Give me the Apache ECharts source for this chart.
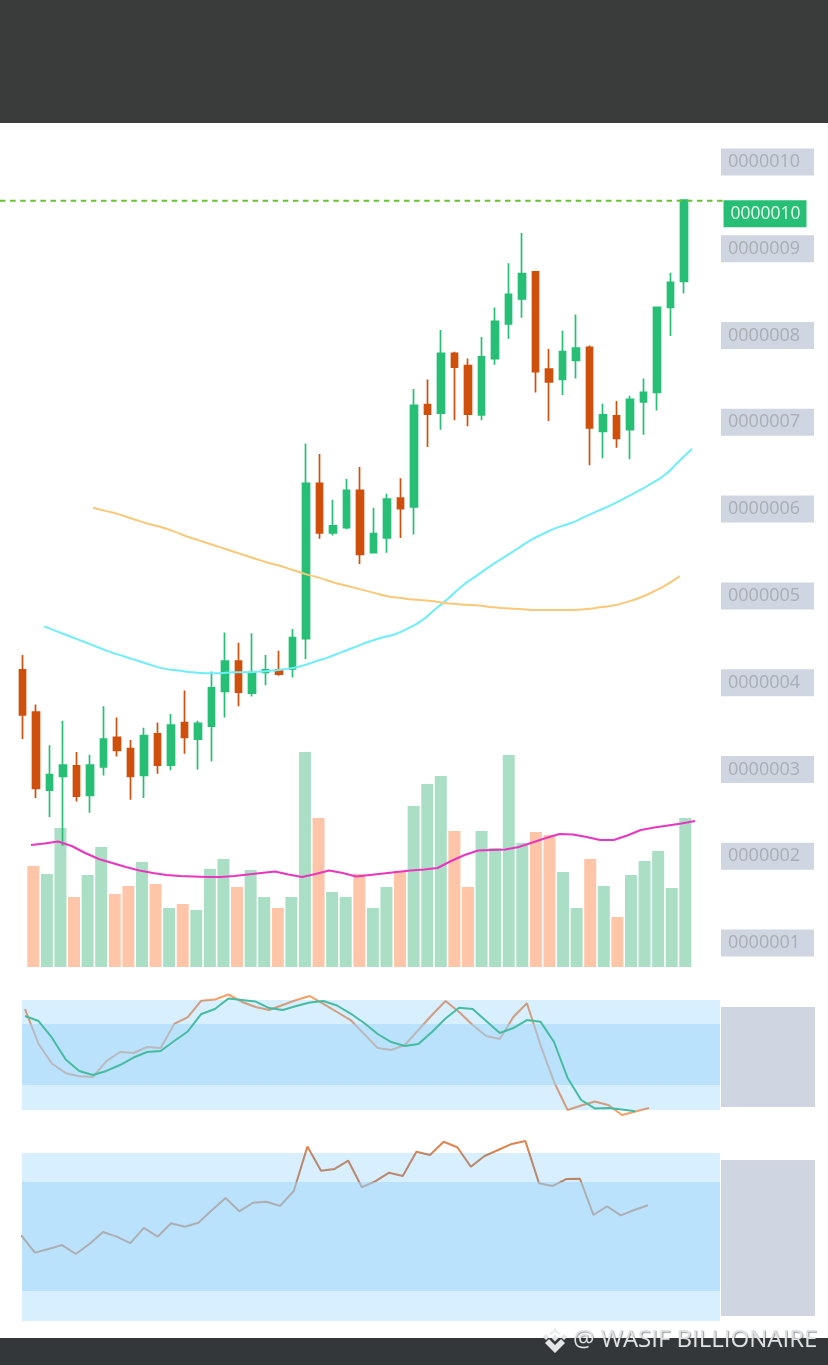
<!DOCTYPE html>
<html><head><meta charset="utf-8">
<style>html,body{margin:0;padding:0;background:#fff}#c{width:828px;height:1365px}</style>
<script src="https://cdn.jsdelivr.net/npm/echarts@6/dist/echarts.min.js"></script>
</head><body><div id="c"></div>
<script>
// [open, close, low, high]
const candles = [
[4.13,3.61,3.33,4.30],[3.64,2.76,2.65,3.73],[2.74,2.92,2.43,3.26],[2.90,3.03,2.10,3.54],[3.02,2.67,2.61,3.18],
[2.68,3.03,2.48,3.15],[3.01,3.33,2.91,3.71],[3.35,3.20,3.13,3.58],[3.22,2.90,2.63,3.32],[2.91,3.37,2.65,3.46],
[3.39,3.03,2.93,3.52],[3.03,3.49,2.97,3.62],[3.52,3.35,3.16,3.89],[3.33,3.51,2.98,3.54],[3.48,3.92,3.07,4.11],
[3.88,4.23,3.58,4.56],[4.23,3.87,3.71,4.44],[3.86,4.10,3.82,4.55],[4.10,4.13,3.95,4.30],[4.13,4.08,4.06,4.35],
[4.14,4.50,4.04,4.60],[4.49,6.28,4.25,6.74],[6.28,5.71,5.64,6.62],[5.71,5.79,5.68,6.09],[5.77,6.20,5.75,6.33],
[6.20,5.46,5.35,6.47],[5.48,5.70,5.48,6.00],[5.65,6.10,5.48,6.16],[6.11,5.99,5.65,6.34],[6.01,7.18,5.69,7.37],
[7.19,7.08,6.70,7.48],[7.09,7.78,6.90,8.05],[7.78,7.62,7.01,7.80],[7.64,7.08,6.94,7.72],[7.07,7.74,7.01,7.97],
[7.72,8.15,7.65,8.31],[8.12,8.46,7.95,8.82],[8.41,8.70,8.19,9.17],[8.72,7.57,7.33,8.73],[7.60,7.45,7.00,7.83],
[7.48,7.80,7.30,8.04],[7.70,7.84,7.49,8.23],[7.85,6.92,6.49,7.87],[6.88,7.07,6.57,7.20],[7.06,6.80,6.69,7.23],
[6.90,7.25,6.56,7.29],[7.22,7.33,6.84,7.49],[7.33,8.31,7.12,8.31],[8.31,8.60,7.98,8.71],[8.61,9.55,8.47,9.55]
];
const maCyan = [4.63,4.57,4.51,4.45,4.39,4.33,4.28,4.23,4.18,4.14,4.12,4.10,4.09,4.09,4.10,4.10,4.11,4.12,4.14,4.17,4.22,4.27,4.33,4.39,4.45,4.50,4.54,4.61,4.70,4.83,4.96,5.10,5.21,5.32,5.42,5.52,5.62,5.70,5.77,5.82,5.89,5.96,6.03,6.11,6.19,6.28,6.38,6.53,6.68];
const maOrange = [6.00,5.96,5.92,5.87,5.82,5.78,5.73,5.67,5.62,5.57,5.52,5.47,5.42,5.37,5.33,5.28,5.23,5.19,5.14,5.10,5.06,5.02,4.98,4.96,4.94,4.93,4.91,4.89,4.88,4.87,4.85,4.84,4.83,4.82,4.82,4.82,4.82,4.83,4.85,4.87,4.91,4.96,5.03,5.11,5.21];
const volumes = [101,93,139,70,92,120,73,81,105,83,59,63,57,98,108,80,97,70,59,70,215,149,75,70,93,59,80,96,161,183,191,136,80,136,119,212,124,135,132,95,59,108,81,50,92,106,116,79,149];
const volumeDown = [1,0,0,1,0,0,1,1,0,1,0,1,0,0,0,1,0,0,1,0,0,1,0,0,1,0,0,1,0,0,0,1,1,0,0,0,0,1,1,0,0,1,0,1,0,0,0,0,0];
const volumeMA = [122,123.5,125.5,121,114,108,104,100,96.5,94,92,91,90.5,90,90,91,92.5,94,95.5,92.5,90,93,96.5,94,90.5,92,93.5,95,96.5,97.5,99,106,112,116.5,117,117.5,120,124.5,129,133,132.5,130,127,127,131.5,137,139.5,141.5,143.5,146];
const kdjSlow = [91.8,60,42,33.5,30.7,30,44.5,52.7,51.8,57.3,56.4,78.2,84.5,99.4,100.5,105,98.2,93.6,90.9,95.5,100,103.6,96.4,89.1,81.8,69.1,56.4,54.5,59.1,72.7,86.4,99.1,89.1,77.3,67.3,64.5,84.5,97,59.1,25.5,0,4.1,7.7,4.5,-4.5,-1.4,1.8];
const kdjFast = [85.5,80.9,65.5,45.9,35.5,31.8,35.5,40.9,47.7,52.7,53.6,62.7,71.4,87.3,91.8,101.4,100,98.6,92.7,90.9,94.5,97.7,99.1,95,87.7,79.1,69.1,61.8,58.2,60,70.9,83.2,93,91.8,80.9,70,74.5,81.8,80.3,61.8,29.1,9.1,1.4,1.8,0.5,-1.2];
const rsi = [51.0,40.7,42.9,45.2,39.9,45.8,53.0,50.2,46.4,55.4,50.2,58.2,56.1,58.5,66.1,73.2,65.3,70.4,71.0,68.5,77.4,103.8,89.5,90.5,95.4,79.6,83.3,88.3,86.3,100.8,98.8,106.7,103.4,91.8,98.2,101.8,105.4,107.1,82.0,80.4,84.5,84.7,63.1,68.3,62.9,66.1,68.9];
const priceTicks = {min:1,max:10,step:1};
const lastPrice = 9.54;
const lastPriceLabel = '0000010';
const kdjOuter = [0,100], kdjInner = [22.7,78.2];
const rsiOuter = [0,100], rsiInner = [17.9,82.7];

const UP='#26bf75', DOWN='#cf4f0c';
const cat = n => Array.from({length:n},(_,i)=>String(i));
const grids=[], xAxes=[], yAxes=[];
function panel(g, n, gap, y){
  grids.push(Object.assign({containLabel:false},g));
  const i=grids.length-1;
  xAxes.push({type:'category',gridIndex:i,data:cat(n),boundaryGap:gap,show:false});
  yAxes.push(Object.assign({type:'value',gridIndex:i,show:false,splitLine:{show:false}},y));
  return i;
}
const priceY={min:priceTicks.min,max:priceTicks.max};
const pv={top:161,height:780};
const gCandle=panel({left:15.75,width:675,...pv},candles.length,true,priceY);
const gLabels=panel({left:15.75,width:675,top:162,height:781},2,true,{
  show:true,position:'right',offset:30.25,min:priceTicks.min,max:priceTicks.max,interval:priceTicks.step,
  axisLine:{show:false},axisTick:{show:false},
  axisLabel:{margin:0,color:'#aaaeb4',fontFamily:'Open Sans',fontSize:18,backgroundColor:'#cfd6e2',
    width:79,height:17,lineHeight:17,padding:[5,7,5,7],align:'left',
    formatter:v=>String(Math.round(v)).padStart(7,'0')}
});
const gCyan=panel({left:44,width:648,...pv},maCyan.length,false,priceY);
const gOrange=panel({left:93,width:586.7,...pv},maOrange.length,false,priceY);
const gLast=panel({left:0,width:727,...pv},2,false,priceY);
const gVol=panel({left:26.5,width:665.6,top:752,height:215},volumes.length,true,{min:0,max:215});
const gVolMA=panel({left:31,width:664,top:752,height:215},volumeMA.length,false,{min:0,max:215});
const kv={top:989,height:132};
const gKB=panel({left:22,width:698,...kv},2,false,{min:-10,max:110});
const gKL=panel({left:25,width:624,...kv},kdjSlow.length,false,{min:-10,max:110});
const rv={top:1119.4,height:201.6};
const gRB=panel({left:22,width:698,...rv},2,false,{min:0,max:120});
const gRL=panel({left:21.3,width:626.7,...rv},rsi.length,false,{min:0,max:120});

const line=(g,data,color,width,z,extra)=>Object.assign({type:'line',xAxisIndex:g,yAxisIndex:g,data,showSymbol:false,symbol:'none',
  smooth:false,silent:true,z,lineStyle:{color,width},connectNulls:false},extra||{});
const band=(g,outer,inner)=>({type:'line',xAxisIndex:g,yAxisIndex:g,data:[],silent:true,z:6,
  markArea:{silent:true,z:6,data:[
    [{yAxis:outer[0],itemStyle:{color:'rgba(4,156,250,0.16)'}},{yAxis:outer[1]}],
    [{yAxis:inner[0],itemStyle:{color:'rgba(159,213,250,0.5)'}},{yAxis:inner[1]}]
  ]}});

const diamond=(cx,cy,r,fill)=>({type:'polygon',z:100,silent:true,shape:{points:[[cx,cy-r],[cx+r,cy],[cx,cy+r],[cx-r,cy]]},style:{fill}});
const logoC='#e3e5e6';
const chart=echarts.init(document.getElementById('c'),null,{renderer:'canvas'});
chart.setOption({
  animation:false,backgroundColor:'#fff',
  grid:grids,xAxis:xAxes,yAxis:yAxes,
  series:[
    {type:'bar',xAxisIndex:gVol,yAxisIndex:gVol,barWidth:12,silent:true,z:2,
      data:volumes.map((v,i)=>({value:v,itemStyle:{color:volumeDown[i]?'#fec5a8':'#abdfc5'}}))},
    {type:'candlestick',xAxisIndex:gCandle,yAxisIndex:gCandle,data:candles,barWidth:7,silent:true,z:3,
      itemStyle:{color:UP,color0:DOWN,borderColor:UP,borderColor0:DOWN,borderWidth:1.7}},
    line(gVolMA,volumeMA,'#ea35be',2,4),
    line(gCyan,maCyan,'#6eeef8',2,4,{smooth:0.6}),
    line(gOrange,maOrange,'#fac878',2,4,{smooth:0.6}),
    line(gLast,[lastPrice,lastPrice],'#66c42e',2,5,{lineStyle:{color:'#66c42e',width:2,type:[5.5,4.6]},
      endLabel:{show:true,formatter:lastPriceLabel,color:'#e6f7ee',fontFamily:'Open Sans',fontSize:17.5,
        backgroundColor:UP,width:69,height:17,lineHeight:17,padding:[5,7,5,7],distance:0,offset:[-3.5,13],align:'left'}}),
    line(gKL,kdjSlow,'#f89e68',2,5),
    band(gKB,kdjOuter,kdjInner),
    line(gKL,kdjFast,'#47bb9f',2,7),
    line(gRL,rsi,'#dd8450',2,5),
    band(gRB,rsiOuter,rsiInner)
  ],
  graphic:[
    {type:'rect',z:90,silent:true,shape:{x:0,y:0,width:828,height:123},style:{fill:'#3a3b3b'}},
    {type:'rect',z:90,silent:true,shape:{x:0,y:1338,width:828,height:27},style:{fill:'#343739'}},
    {type:'rect',z:90,silent:true,shape:{x:721,y:1007,width:94,height:100},style:{fill:'#cfd6e2'}},
    {type:'rect',z:90,silent:true,shape:{x:721,y:1160,width:94,height:156},style:{fill:'#cfd6e2'}},
    {type:'polygon',z:100,silent:true,shape:{points:[[555,1345],[561,1339],[565,1343],[555,1353],[545,1343],[549,1339]]},style:{fill:logoC}},
    diamond(555,1338,3.4,logoC),diamond(546,1337,3,logoC),diamond(564,1337,3,logoC),
    {type:'polygon',z:100,silent:true,shape:{points:[[555,1328],[561,1334],[558.5,1335],[555,1331.5],[551.5,1335],[549,1334]]},style:{fill:'#e9edee'}},
    {type:'text',z:100,silent:true,x:573,y:1340,style:{text:'@ WASIF BILLIONAIRE',fontFamily:'Open Sans',fontSize:24,
      fill:'#dfe1e3',verticalAlign:'middle',textShadowColor:'rgba(60,65,70,0.55)',textShadowBlur:1,textShadowOffsetX:1,textShadowOffsetY:1}}
  ]
});
</script></body></html>
